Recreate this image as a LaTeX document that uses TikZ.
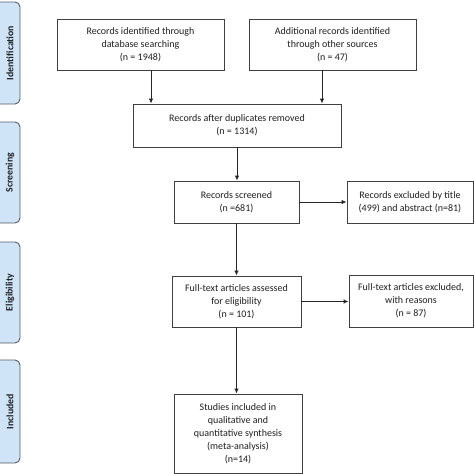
\documentclass[tikz,border=0pt]{standalone}
\usepackage{fontspec}
\setmainfont{Carlito}
\usetikzlibrary{arrows.meta,calc}
\definecolor{bandfill}{HTML}{CFE4F7}
\definecolor{bandline}{HTML}{55606A}
\definecolor{boxline}{HTML}{404040}
\definecolor{txt}{HTML}{202020}
\tikzset{
  box/.style={draw=boxline, line width=0.9pt, fill=white, align=center, inner sep=2pt,
    font=\fontsize{10}{13}\selectfont, text=txt},
  band/.style={draw=bandline, line width=0.9pt, fill=bandfill, rounded corners=5pt},
  bandlabel/.style={rotate=90, font=\fontsize{9.8}{11}\selectfont\bfseries, text=txt},
  arr/.style={draw=black!85, line width=0.9pt, -{Latex[length=5pt,width=4.5pt]}}
}
\begin{document}
\begin{tikzpicture}[x=1pt,y=-1pt]
\useasboundingbox (0,0) rectangle (474,474);
\fill[white] (0,0) rectangle (474,474);
% phase bands
\draw[band] (-12,2) rectangle (20,104);
\node[bandlabel] (lid) at (10,53) {Identification};
\draw[band] (-12,122) rectangle (20,223);
\node[bandlabel] (lsc) at (10,172.5) {Screening};
\draw[band] (-12,242) rectangle (20,343);
\node[bandlabel] (lel) at (10,292.5) {Eligibility};
\draw[band] (-12,360) rectangle (20,463);
\node[bandlabel] (lin) at (10,411.5) {Included};
% boxes
\node[box, minimum width=167pt, minimum height=51pt] (db) at (140.5,44.5)
  {Records identified through\\database searching\\(n = 1948)};
\node[box, minimum width=167pt, minimum height=51pt] (oth) at (332.5,44.5)
  {Additional records identified\\through other sources\\(n = 47)};
\node[box, minimum width=208pt, minimum height=43pt] (dup) at (237,125.5)
  {Records after duplicates removed\\(n = 1314)};
\node[box, minimum width=125pt, minimum height=42pt] (scr) at (236.5,202)
  {Records screened\\(n =681)};
\node[box, minimum width=126pt, minimum height=42pt] (exc) at (410,202)
  {Records excluded by title\\(499) and abstract (n=81)};
\node[box, minimum width=129pt, minimum height=51pt] (ft) at (236.5,301.5)
  {Full-text articles assessed\\for eligibility\\(n = 101)};
\node[box, minimum width=124pt, minimum height=52pt] (ftx) at (411,301)
  {Full-text articles excluded,\\with reasons\\(n = 87)};
\node[box, minimum width=128pt, minimum height=79pt] (inc) at (238,433.5)
  {Studies included in\\qualitative and\\quantitative synthesis\\(meta-analysis)\\(n=14)};
% connectors
\draw[arr] ([xshift=10.5pt]db.south) -- ([xshift=10.5pt]db.south |- dup.north);
\draw[arr] ([xshift=-10.5pt]oth.south) -- ([xshift=-10.5pt]oth.south |- dup.north);
\draw[arr] (dup.south) -- (dup.south |- scr.north);
\draw[arr] (scr.east) -- (exc.west);
\draw[arr] (scr.south) -- (scr.south |- ft.north);
\draw[arr] (ft.east) -- (ft.east -| ftx.west);
\draw[arr] (ft.south) -- (ft.south |- inc.north);
\end{tikzpicture}
\end{document}
